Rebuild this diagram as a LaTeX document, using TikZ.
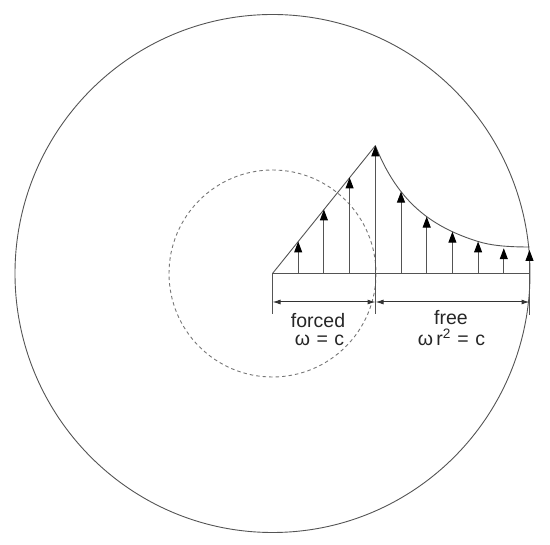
\documentclass[tikz,border=0pt]{standalone}
\usepackage{fontspec}
\setmainfont{Liberation Sans}
\usetikzlibrary{arrows.meta}
\definecolor{ln}{gray}{0.33}
\tikzset{
  thinline/.style={draw=ln, line width=0.9pt},
  vel/.style={draw=ln, line width=1pt, -{Triangle[width=8pt,length=11pt,color=black]}},
  dim/.style={draw=black!80, line width=1pt, {Latex[width=5pt,length=8pt]}-{Latex[width=5pt,length=8pt]}},
  lbl/.style={font=\fontsize{19.5}{19.5}\selectfont, inner sep=0pt, anchor=base, text=black!85}
}
\begin{document}
\begin{tikzpicture}[x=1pt,y=-1pt]
\useasboundingbox (0,0) rectangle (550,545);
% centre and key points
\coordinate (O) at (272.5,273.5);
\coordinate (P) at (375.5,145.5);
\coordinate (E) at (529.5,273.5);
% outer wall
\draw[thinline] (O) ellipse [x radius=257.5, y radius=259];
% radius of forced vortex core
\draw[draw=ln!80, line width=0.9pt, dash pattern=on 3.5pt off 3pt] (O) circle [radius=103.5];
% base line
\draw[thinline] (O) -- (E);
% velocity profile
\draw[thinline] (O) -- (P)
  plot[domain=4:8, samples=50, variable=\k] ({272.5+25.7*\k},{273.5-2048/(\k*\k)})
  .. controls (490,245.2) and (505,247) .. (529.5,247);
% velocity arrows, forced part
\foreach \k in {1,2,3,4}{
  \draw[vel] ({272.5+25.7*\k},273.5) -- ({272.5+25.7*\k},{273.5-32*\k});
}
% velocity arrows, free part
\foreach \k in {5,6,7,8,9}{
  \draw[vel] ({272.5+25.7*\k},273.5) -- ({272.5+25.7*\k},{273.5-2048/(\k*\k)});
}
\draw[vel] (E) -- (529.5,250);
% extension lines
\coordinate (A1) at (272.5,314);
\coordinate (A2) at (375.5,314);
\coordinate (A3) at (529.5,315);
\draw[thinline] (O) -- (A1);
\draw[thinline] (375.5,273.5) -- (A2);
\draw[thinline] (E) -- (A3);
% dimension lines
\coordinate (D1) at (272.5,302);
\coordinate (D2) at (375.5,302);
\coordinate (D3) at (529.5,302);
\draw[dim] (D1) -- (D2);
\draw[dim] (D2) -- (D3);
% labels
\node[lbl] (forcedlbl) at (318,327.5) {forced};
\node[lbl] (forcedeq) at (319.5,346) {ω\,\,=\,\,c};
\node[lbl] (freelbl) at (451,324.5) {free};
\node[lbl] (freeeq) at (451.5,346) {ω\,r\textsuperscript{2}\,\,=\,\,c};
\end{tikzpicture}
\end{document}
